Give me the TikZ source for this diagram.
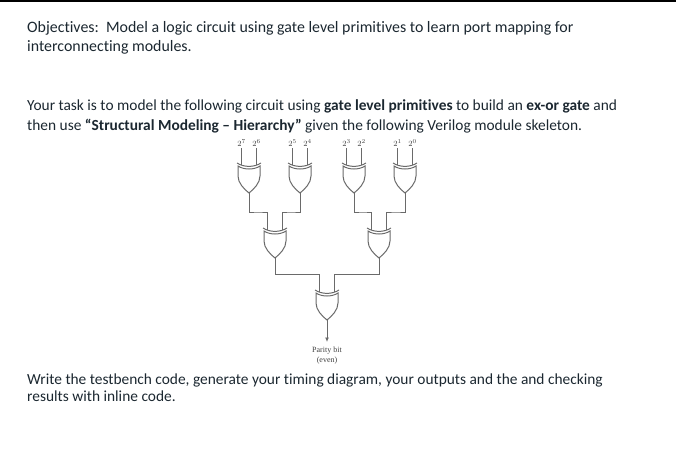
\documentclass[tikz,border=0pt]{standalone}
\usepackage{fontspec}
\setmainfont[Ligatures=NoCommon]{Carlito}
\newfontfamily\bookfont{Liberation Serif}
\usetikzlibrary{arrows.meta,positioning}
\definecolor{inktext}{HTML}{1B2730}
\definecolor{inkgate}{HTML}{6A6A6A}
\tikzset{
para/.style={
  anchor=base west,
  inner sep=0pt,
  text=inktext,
  font=\fontsize{15.4}{17}\selectfont
  },
parabig/.style={
  para,
  font=\fontsize{15.9}{17}\selectfont
  },
small/.style={
  inner sep=0pt,
  text=black!75,
  font=\bookfont\fontsize{8}{9}\selectfont
  },
wire/.style={
  draw=inkgate,
  line width=1pt
  },
xorgate/.pic={
  \draw[wire] (-12,0) .. controls (-5,4.5) and (5,4.5) .. (12,0);
  \draw[wire] (-11,3) .. controls (-5,7) and (5,7) .. (11,3)
    -- (11,13) .. controls (11,20) and (5,26) .. (0,30)
    .. controls (-5,26) and (-11,20) .. (-11,13) -- cycle;
  \coordinate (-left) at (-7.5,2);
  \coordinate (-right) at (7.5,2);
  \coordinate (-out) at (0,30);
  }
}

\begin{document}
\begin{tikzpicture}[x=1pt,y=-1pt,>=latex]
\useasboundingbox (0,0) rectangle (676,475);
\fill[black] (0,0) rectangle (676,2);
% text
\node[parabig] (obj1) at (27,32) {Objectives:\ \ Model a logic circuit using gate level primitives to learn port mapping for};
\node[parabig] (obj2) at (27,51) {interconnecting modules.};
\node[para] (task1) at (27,110) {Your task is to model the following circuit using \textbf{gate level primitives} to build an \textbf{ex-or gate} and};
\node[para] (task2) at (27,130) {then use \textbf{“Structural Modeling – Hierarchy”} given the following Verilog module skeleton.};
\node[para] (end1) at (27,384) {Write the testbench code, generate your timing diagram, your outputs and the and checking};
\node[para] (end2) at (27,401) {results with inline code.};
% gates
\pic (g1) at (249,163) {xorgate};
\pic (g2) at (300,163) {xorgate};
\pic (g3) at (354,163) {xorgate};
\pic (g4) at (405,163) {xorgate};
\pic (g5) at (275,228) {xorgate};
\pic (g6) at (379,228) {xorgate};
\pic (g7) at (327,290) {xorgate};
% inputs
\foreach \gate/\lefttext/\righttext in {g1/7/6,g2/5/4,g3/3/2,g4/1/0}{
  \path (\gate-left) ++(0,-17) coordinate (\gate-a);
  \path (\gate-right) ++(0,-17) coordinate (\gate-b);
  \draw[wire] (\gate-a) -- (\gate-left);
  \draw[wire] (\gate-b) -- (\gate-right);
  \node[small,above=1.5pt of \gate-a] (\gate-la) {$2^{\lefttext}$};
  \node[small,above=1.5pt of \gate-b] (\gate-lb) {$2^{\righttext}$};
}
% wires
\draw[wire] (g1-out) |- ++(9,19) -| (g5-left);
\draw[wire] (g2-out) |- ++(-9,19) -| (g5-right);
\draw[wire] (g3-out) |- ++(9,19) -| (g6-left);
\draw[wire] (g4-out) |- ++(-9,19) -| (g6-right);
\draw[wire] (g5-out) |- ++(20,16) -| (g7-left);
\draw[wire] (g6-out) |- ++(-20,16) -| (g7-right);
\node[small] (parity) at (327,351) {Parity bit};
\node[small] (even) at (327,360.5) {(even)};
\coordinate (g7-end) at (327,342);
\draw[wire,-{Latex[length=4.5pt,width=4pt]}] (g7-out) -- (g7-end);
\end{tikzpicture}
\end{document}
